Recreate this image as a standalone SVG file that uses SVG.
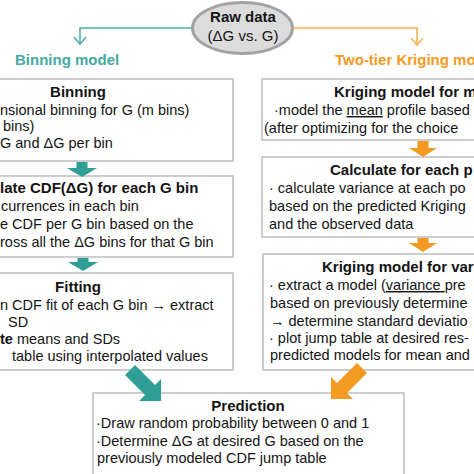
<svg xmlns="http://www.w3.org/2000/svg" width="474" height="474" viewBox="0 0 474 474">
<style>
text{font-family:"Liberation Sans",Arial,sans-serif;fill:#141414;font-size:14.5px}
.b{font-weight:bold;font-size:15px}
.c{text-anchor:middle}
.box{fill:#fff;stroke:#bdbdbd;stroke-width:1.5}
.tl{fill:none;stroke:#4aaea3;stroke-width:1.5}
.ol{fill:none;stroke:#f4b04a;stroke-width:1.5}
.ta{fill:#2f9e97}
.oa{fill:#f39a22}
.u{text-decoration:underline}
</style>
<rect width="474" height="474" fill="#fff"/>
<g id="nodes">
<g id="raw">
<ellipse cx="242.5" cy="28" rx="50" ry="25.5" fill="#dcdcdc" stroke="#a3a3a3" stroke-width="3"/>
<text class="b c" x="243" y="22">Raw data</text>
<text class="c" x="243" y="41" style="font-size:15px">(ΔG vs. G)</text>
</g>
<g id="binning-title"><text class="b" x="15" y="65" style="fill:#45aa9e">Binning model</text></g>
<g id="kriging-title"><text class="b" x="335" y="65" style="fill:#f39a22">Two-tier Kriging mo</text></g>
<g id="binning">
<rect class="box" x="-10" y="79" width="243" height="82"/>
<text class="b c" x="78" y="97">Binning</text>
<text x="0" y="115">nsional binning for G (m bins)</text>
<text x="3" y="131">bins)</text>
<text x="0" y="148">G and ΔG per bin</text>
</g>
<g id="cdf">
<rect class="box" x="-10" y="176" width="243" height="81"/>
<text class="b" x="0" y="193">late CDF(ΔG) for each G bin</text>
<text x="1" y="211">currences in each bin</text>
<text x="0" y="229">e CDF per G bin based on the</text>
<text x="0" y="247">ross all the ΔG bins for that G bin</text>
</g>
<g id="fitting">
<rect class="box" x="-10" y="273" width="243" height="97"/>
<text class="b c" x="78" y="292">Fitting</text>
<text x="0" y="310">n CDF fit of each G bin → extract</text>
<text x="8" y="327">SD</text>
<text x="0" y="344"><tspan font-weight="bold">te</tspan> means and SDs</text>
<text x="12" y="361">table using interpolated values</text>
</g>
<g id="krig-mean">
<rect class="box" x="262" y="79" width="230" height="61"/>
<text class="b" x="334" y="97">Kriging model for m</text>
<text x="274" y="115">·model the <tspan class="u">mean</tspan> profile based</text>
<text x="264" y="133">(after optimizing for the choice</text>
</g>
<g id="calc">
<rect class="box" x="262" y="157" width="230" height="80"/>
<text class="b" x="330" y="175">Calculate for each p</text>
<text x="269" y="193">· calculate variance at each po</text>
<text x="269" y="211">based on the predicted Kriging</text>
<text x="269" y="229">and the observed data</text>
</g>
<g id="krig-var">
<rect class="box" x="263" y="254" width="230" height="116"/>
<text class="b" x="322" y="272">Kriging model for var</text>
<text x="269" y="290">· extract a model (<tspan class="u">variance </tspan>pre</text>
<text x="270" y="308">based on previously determine</text>
<text x="270" y="326">→ determine standard deviatio</text>
<text x="269" y="343">· plot jump table at desired res-</text>
<text x="270" y="360">predicted models for mean and</text>
</g>
<g id="prediction">
<rect class="box" x="93" y="393" width="311" height="100"/>
<text class="b c" x="248" y="411">Prediction</text>
<text x="96" y="428">·Draw random probability between 0 and 1</text>
<text x="96" y="446">·Determine ΔG at desired G based on the</text>
<text x="97" y="463">previously modeled CDF jump table</text>
</g>
</g>
<g id="connectors">
<polyline class="tl" points="192,28 80,28 80,43"/>
<polyline class="tl" points="74,37 80,44 86,37"/>
<polyline class="ol" points="293,28 417,28 417,45"/>
<polyline class="ol" points="411,38 417,45 423,38"/>
<polygon class="ta" points="76.5,162 87.5,162 87.5,168 97,168 82,177 67,168 76.5,168"/>
<polygon class="ta" points="77.5,258 88.5,258 88.5,262 98,262 83,271 68,262 77.5,262"/>
<polygon class="oa" points="417.5,141 428.5,141 428.5,148 437,148 423,157 409,148 417.5,148"/>
<polygon class="oa" points="417.5,238 428.5,238 428.5,243 437,243 423,252 409,243 417.5,243"/>
<polygon class="ta" points="161,401 161,379 155,385 135,365 125,375 145,395 139,401"/>
<polygon class="oa" points="331,399 331,377 337,383 357,363 367,373 347,393 353,399"/>
</g>
</svg>
